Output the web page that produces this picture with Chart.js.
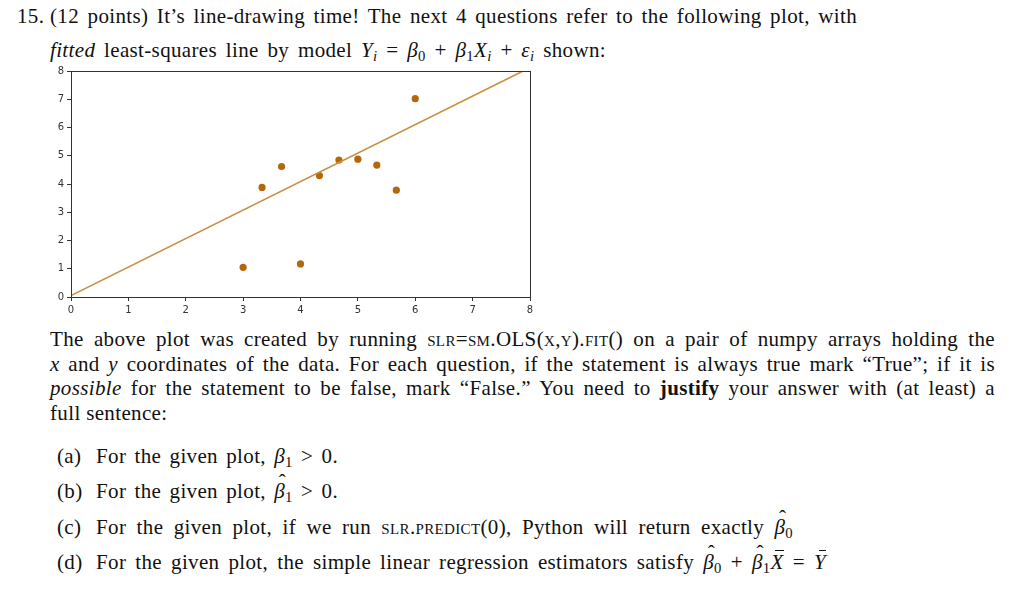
<!DOCTYPE html>
<html>
<head>
<meta charset="utf-8">
<script src="https://cdn.jsdelivr.net/npm/chart.js@4"></script>
<style>
  body { margin: 0; background: #fff; width: 1024px; height: 594px; overflow: hidden; position: relative; }
  .ln { position: absolute; font-family: "Liberation Serif", serif; font-size: 21px; line-height: 24px; letter-spacing: 0.35px; color: #111; white-space: nowrap; }
  .sc { font-variant: small-caps; }
  i { font-style: italic; }
  sub { font-size: 70%; vertical-align: -0.25em; line-height: 0; font-style: normal; }
  i sub { font-style: italic; }
  .hat { position: relative; display: inline-block; font-style: italic; }
  .hat::after { content: "\02C6"; position: absolute; left: 0.22em; top: -0.42em; font-style: normal; }
  .bar { position: relative; display: inline-block; font-style: italic; }
  .bar::after { content: ""; position: absolute; left: 0.22em; right: 0; top: -0.02em; border-top: 1px solid #111; }
  #wrap { position: absolute; left: 0; top: 60px; width: 560px; height: 260px; }
</style>
</head>
<body>
<div class="ln" style="left:17px;top:4px">15.</div>
<div class="ln fit" data-w="807" style="left:50px;top:4px">(12 points) It’s line-drawing time! The next 4 questions refer to the following plot, with</div>
<div class="ln fit" data-w="556" style="left:50px;top:38px"><i>fitted</i> least-squares line by model <i>Y<sub>i</sub></i> = <i>β</i><sub>0</sub> + <i>β</i><sub>1</sub><i>X<sub>i</sub></i> + <i>ε<sub>i</sub></i> shown:</div>

<div id="wrap"><canvas id="plot" width="560" height="260"></canvas></div>

<div class="ln fit" data-w="945" style="left:50px;top:327px">The above plot was created by running <span class="sc">slr=sm.</span>OLS<span class="sc">(x,y).fit</span>() on a pair of numpy arrays holding the</div>
<div class="ln fit" data-w="945" style="left:50px;top:352px"><i>x</i> and <i>y</i> coordinates of the data. For each question, if the statement is always true mark “True”; if it is</div>
<div class="ln fit" data-w="945" style="left:50px;top:376px"><i>possible</i> for the statement to be false, mark “False.” You need to <b>justify</b> your answer with (at least) a</div>
<div class="ln" style="left:50px;top:401px">full sentence:</div>

<div class="ln" style="left:57px;top:444px">(a)</div>
<div class="ln fit" data-w="242" style="left:96px;top:444px">For the given plot, <i>β</i><sub>1</sub> &gt; 0.</div>
<div class="ln" style="left:57px;top:479px">(b)</div>
<div class="ln fit" data-w="242" style="left:96px;top:479px">For the given plot, <span class="hat">β</span><sub>1</sub> &gt; 0.</div>
<div class="ln" style="left:57px;top:515px">(c)</div>
<div class="ln fit" data-w="697" style="left:96px;top:515px">For the given plot, if we run <span class="sc">slr.predict</span>(0), Python will return exactly <span class="hat">β</span><sub>0</sub></div>
<div class="ln" style="left:57px;top:550px">(d)</div>
<div class="ln fit" data-w="730" style="left:96px;top:550px">For the given plot, the simple linear regression estimators satisfy <span class="hat">β</span><sub>0</sub> + <span class="hat">β</span><sub>1</sub><span class="bar">X</span> = <span class="bar">Y</span></div>

<script>
// data
var xVals = [3, 3.33, 3.67, 4, 4.33, 4.67, 5, 5.33, 5.67, 6];
var yVals = [1.05, 3.88, 4.62, 1.17, 4.3, 4.85, 4.88, 4.67, 3.78, 7.02];
var fitX = [0, 7.88];
var fitY = [0.05, 8];
var tickVals = [0, 1, 2, 3, 4, 5, 6, 7, 8];

// stretch each text line to its width in the scan
document.querySelectorAll('.fit').forEach(function(el){
  var target = parseFloat(el.dataset.w);
  el.style.display = 'inline-block';
  var w = el.getBoundingClientRect().width;
  var spaces = (el.textContent.match(/ /g) || []).length;
  if (w < target && spaces > 0) {
    el.style.wordSpacing = ((target - w) / spaces) + 'px';
  } else if (w > target) {
    el.style.transformOrigin = 'left top';
    el.style.transform = 'scaleX(' + (target / w) + ')';
  }
});

var points = xVals.map(function(x, i){ return {x: x, y: yVals[i]}; });
var fitLine = fitX.map(function(x, i){ return {x: x, y: fitY[i]}; });

var frame = {
  id: 'frame',
  afterDraw: function(chart){
    var a = chart.chartArea, c = chart.ctx;
    c.save();
    c.strokeStyle = '#333';
    c.lineWidth = 1;
    c.strokeRect(a.left + 0.5, a.top + 0.5, a.right - a.left, a.bottom - a.top);
    c.restore();
  }
};

var axisStyle = function(fit){
  return {
    type: 'linear', min: 0, max: 8,
    afterBuildTicks: function(s){ s.ticks = tickVals.map(function(v){ return {value: v}; }); },
    afterFit: fit,
    grid: { drawOnChartArea: false, drawTicks: true, tickLength: 4, color: '#333' },
    border: { display: true, color: '#333', width: 1 },
    ticks: { color: '#333', font: { family: 'DejaVu Sans', size: 10 }, padding: 3, maxRotation: 0 }
  };
};

new Chart(document.getElementById('plot').getContext('2d'), {
  type: 'scatter',
  data: {
    datasets: [{
      type: 'line',
      data: fitLine,
      borderColor: '#c98f40',
      borderWidth: 1.6,
      pointRadius: 0,
      fill: false
    }, {
      data: points,
      backgroundColor: '#b5670e',
      borderWidth: 0,
      pointRadius: 3.6
    }]
  },
  plugins: [frame],
  options: {
    responsive: false,
    animation: false,
    devicePixelRatio: 1,
    layout: { padding: { top: 11, right: 30, left: 0, bottom: 0 } },
    plugins: { legend: { display: false }, tooltip: { enabled: false } },
    scales: {
      x: axisStyle(function(s){ s.height = 23; }),
      y: axisStyle(function(s){ s.width = 71; })
    }
  }
});
</script>
</body>
</html>
